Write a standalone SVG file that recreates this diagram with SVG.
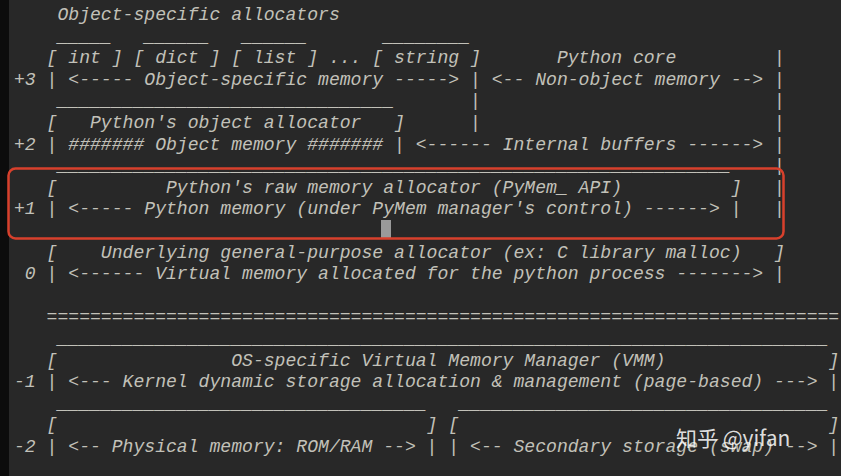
<svg xmlns="http://www.w3.org/2000/svg" width="841" height="476" viewBox="0 0 841 476">
<style>
.t{font-family:"Liberation Mono","DejaVu Sans Mono",monospace;font-style:italic;font-size:18.1px;fill:#c2c1b9;white-space:pre}
</style>
<rect width="841" height="476" fill="#282828"/>
<rect width="9" height="476" fill="#0c0c0c"/>
<g xml:space="preserve">
<text class="t" x="14" y="20">    Object-specific allocators</text>
<text class="t" x="14" y="41.6">    _____   ______   ______       ________</text>
<text class="t" x="14" y="63.2">   [ int ] [ dict ] [ list ] ... [ string ]       Python core         |</text>
<text class="t" x="14" y="84.8">+3 | &lt;----- Object-specific memory -----&gt; | &lt;-- Non-object memory --&gt; |</text>
<text class="t" x="14" y="106.4">    _______________________________       |                           |</text>
<text class="t" x="14" y="128">   [   Python's object allocator   ]      |                           |</text>
<text class="t" x="14" y="149.6">+2 | ####### Object memory ####### | &lt;------ Internal buffers ------&gt; |</text>
<text class="t" x="14" y="171.2">    ______________________________________________________________    |</text>
<text class="t" x="14" y="192.8">   [          Python's raw memory allocator (PyMem_ API)          ]   |</text>
<text class="t" x="14" y="214.4">+1 | &lt;----- Python memory (under PyMem manager's control) ------&gt; |   |</text>
<text class="t" x="14" y="257.6">   [    Underlying general-purpose allocator (ex: C library malloc)   ]</text>
<text class="t" x="14" y="279.2"> 0 | &lt;------ Virtual memory allocated for the python process -------&gt; |</text>
<text class="t" x="14" y="322.4">   =========================================================================</text>
<text class="t" x="14" y="344">    _______________________________________________________________________</text>
<text class="t" x="14" y="365.6">   [                OS-specific Virtual Memory Manager (VMM)               ]</text>
<text class="t" x="14" y="387.2">-1 | &lt;--- Kernel dynamic storage allocation &amp; management (page-based) ---&gt; |</text>
<text class="t" x="14" y="408.8">    __________________________________   __________________________________</text>
<text class="t" x="14" y="430.4">   [                                  ] [                                  ]</text>
<text class="t" x="14" y="452">-2 | &lt;-- Physical memory: ROM/RAM --&gt; | | &lt;-- Secondary storage (swap) --&gt; |</text>
</g>
<rect x="381" y="220" width="10" height="18" fill="#9a9a9a"/>
<rect x="8.5" y="168.5" width="775" height="70" rx="7" fill="none" stroke="#d8402c" stroke-width="2.5"/>
<text x="676" y="446" font-family="'Noto Sans CJK SC','Noto Sans',sans-serif" font-size="21" fill="#ffffff" fill-opacity="0.85">知乎 @yifan</text>
</svg>
